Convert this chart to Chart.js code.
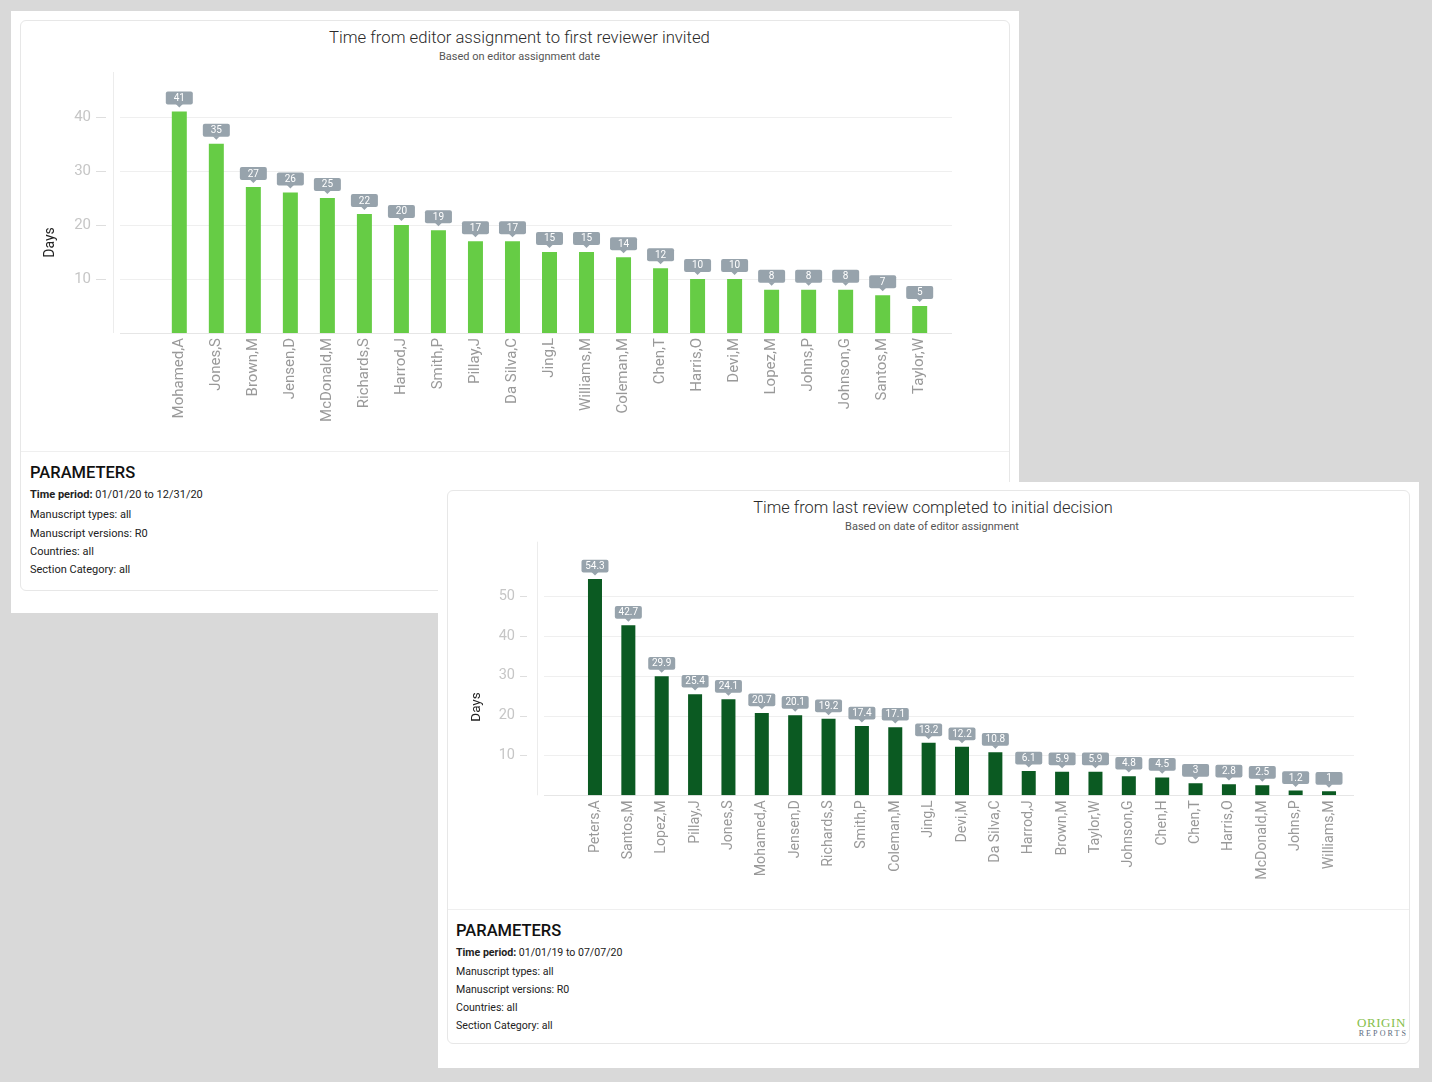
<!DOCTYPE html>
<html>
<head>
<meta charset="utf-8">
<script src="https://cdn.jsdelivr.net/npm/chart.js@4.4.0/dist/chart.umd.min.js"></script>
<style>
  html, body { margin: 0; padding: 0; }
  body { width: 1432px; height: 1082px; background: #d9d9d9; position: relative; overflow: hidden; font-family: Roboto, "Noto Sans", sans-serif; }
  .abs { position: absolute; }
  .panel { position: absolute; background: #fff; }
  .card { position: absolute; border: 1px solid #e7e7e7; border-radius: 6px; box-sizing: border-box; background: #fff; }
  .sep { position: absolute; height: 1px; background: #efefef; }
  .title { position: absolute; text-align: center; font-weight: 300; color: #2a2a2a; white-space: nowrap; line-height: 20px; }
  .sub { position: absolute; text-align: center; color: #555; white-space: nowrap; line-height: 14px; }
  .ph { position: absolute; font-weight: 500; color: #111; line-height: 20px; white-space: nowrap; }
  .pl { position: absolute; color: #222; line-height: 14px; white-space: nowrap; }
  .pl b { font-weight: 700; }
  canvas { position: absolute; }
</style>
</head>
<body>

<!-- top report -->
<div class="panel" style="left:11px;top:11px;width:1008px;height:602px;"></div>
<div class="card" style="left:20px;top:20px;width:990px;height:571px;"></div>
<div class="sep" style="left:21px;top:451px;width:988px;"></div>
<div class="title" style="left:20px;top:28px;width:999px;font-size:16.7px;">Time from editor assignment to first reviewer invited</div>
<div class="sub" style="left:20px;top:50px;width:999px;font-size:11px;">Based on editor assignment date</div>
<canvas id="chartA" width="990" height="430" style="left:20px;top:20px;"></canvas>
<div class="ph" style="left:30px;top:463px;font-size:16.5px;">PARAMETERS</div>
<div class="pl" style="left:30px;top:488px;font-size:11px;"><b>Time period:</b> 01/01/20 to 12/31/20</div>
<div class="pl" style="left:30px;top:508px;font-size:11px;">Manuscript types: all</div>
<div class="pl" style="left:30px;top:527px;font-size:11px;">Manuscript versions: R0</div>
<div class="pl" style="left:30px;top:545px;font-size:11px;">Countries: all</div>
<div class="pl" style="left:30px;top:563px;font-size:11px;">Section Category: all</div>

<!-- bottom report -->
<div class="panel" style="left:438px;top:482px;width:981px;height:586px;"></div>
<div class="card" style="left:447px;top:490px;width:963px;height:554px;"></div>
<div class="sep" style="left:448px;top:909px;width:961px;"></div>
<div class="title" style="left:447px;top:498px;width:972px;font-size:16.4px;">Time from last review completed to initial decision</div>
<div class="sub" style="left:447px;top:520px;width:970px;font-size:11px;">Based on date of editor assignment</div>
<canvas id="chartB" width="963" height="418" style="left:447px;top:490px;"></canvas>
<div class="ph" style="left:456px;top:921px;font-size:16.5px;">PARAMETERS</div>
<div class="pl" style="left:456px;top:946px;font-size:10.6px;"><b>Time period:</b> 01/01/19 to 07/07/20</div>
<div class="pl" style="left:456px;top:965px;font-size:10.6px;">Manuscript types: all</div>
<div class="pl" style="left:456px;top:983px;font-size:10.6px;">Manuscript versions: R0</div>
<div class="pl" style="left:456px;top:1001px;font-size:10.6px;">Countries: all</div>
<div class="pl" style="left:456px;top:1019px;font-size:10.6px;">Section Category: all</div>
<div class="abs" style="left:1330px;top:1015px;width:76px;text-align:right;font-family:'Liberation Serif','DejaVu Serif',serif;font-size:13px;line-height:16px;color:#86c04a;letter-spacing:0.6px;">ORIGIN</div>
<div class="abs" style="left:1330px;top:1029px;width:78px;text-align:right;font-family:'Liberation Serif','DejaVu Serif',serif;font-size:8px;line-height:10px;color:#5b6b7c;letter-spacing:2.1px;">REPORTS</div>

<script>
// ---------- data ----------
const editorsA = ['Mohamed,A','Jones,S','Brown,M','Jensen,D','McDonald,M','Richards,S','Harrod,J','Smith,P','Pillay,J','Da Silva,C','Jing,L','Williams,M','Coleman,M','Chen,T','Harris,O','Devi,M','Lopez,M','Johns,P','Johnson,G','Santos,M','Taylor,W'];
const daysA = [41,35,27,26,25,22,20,19,17,17,15,15,14,12,10,10,8,8,8,7,5];
const yTicksA = [10,20,30,40];

const editorsB = ['Peters,A','Santos,M','Lopez,M','Pillay,J','Jones,S','Mohamed,A','Jensen,D','Richards,S','Smith,P','Coleman,M','Jing,L','Devi,M','Da Silva,C','Harrod,J','Brown,M','Taylor,W','Johnson,G','Chen,H','Chen,T','Harris,O','McDonald,M','Johns,P','Williams,M'];
const daysB = [54.3,42.7,29.9,25.4,24.1,20.7,20.1,19.2,17.4,17.1,13.2,12.2,10.8,6.1,5.9,5.9,4.8,4.5,3,2.8,2.5,1.2,1];
const yTicksB = [10,20,30,40,50];

const axisTitle = 'Days';

// ---------- drawing helpers ----------
function decorPlugin(st) {
  return {
    id: 'decor_' + st.key,
    beforeDatasetsDraw(chart) {
      const ctx = chart.ctx, ca = chart.chartArea, y = chart.scales.y;
      ctx.save();
      ctx.lineWidth = 1;
      y.ticks.forEach(t => {
        const py = Math.round(y.getPixelForValue(t.value)) + 0.5;
        ctx.strokeStyle = t.value === 0 ? '#e6e6e6' : '#efefef';
        ctx.beginPath();
        ctx.moveTo(ca.left - st.gridL, py);
        ctx.lineTo(ca.right + st.gridR, py);
        ctx.stroke();
        if (t.value !== 0) {
          ctx.strokeStyle = '#dedede';
          ctx.beginPath();
          ctx.moveTo(ca.left - st.tickFrom, py);
          ctx.lineTo(ca.left - st.tickTo, py);
          ctx.stroke();
        }
      });
      const ax = Math.round(ca.left - st.axis) + 0.5;
      ctx.strokeStyle = '#ececec';
      ctx.beginPath();
      ctx.moveTo(ax, ca.top);
      ctx.lineTo(ax, ca.bottom);
      ctx.stroke();
      ctx.translate(st.titleX, (ca.top + ca.bottom) / 2 + st.titleDy);
      ctx.rotate(-Math.PI / 2);
      ctx.fillStyle = '#222';
      ctx.font = st.titleFont + 'px Roboto';
      ctx.textAlign = 'center';
      ctx.textBaseline = 'middle';
      ctx.fillText(axisTitle, 0, 0);
      ctx.restore();
    },
    afterDatasetsDraw(chart) {
      const ctx = chart.ctx;
      const meta = chart.getDatasetMeta(0);
      const vals = chart.data.datasets[0].data;
      ctx.save();
      meta.data.forEach((el, i) => {
        const x = el.x, top = el.y;
        const w = st.boxW, h = st.boxH;
        const bBottom = top - st.gap;
        const bTop = bBottom - h;
        ctx.fillStyle = '#97a3ac';
        ctx.beginPath();
        ctx.roundRect(x - w / 2, bTop, w, h, 2);
        ctx.fill();
        ctx.beginPath();
        ctx.moveTo(x - 3.5, bBottom - 0.5);
        ctx.lineTo(x + 3.5, bBottom - 0.5);
        ctx.lineTo(x, bBottom + 3);
        ctx.closePath();
        ctx.fill();
        ctx.fillStyle = '#ffffff';
        ctx.font = st.valFont + 'px Roboto';
        ctx.textAlign = 'center';
        ctx.textBaseline = 'middle';
        ctx.fillText(String(vals[i]), x, bTop + h / 2 + 0.5);
      });
      ctx.restore();
    }
  };
}

function makeChart(id, labels, values, ticksArr, cfg) {
  const st = cfg.style;
  return new Chart(document.getElementById(id), {
    type: 'bar',
    data: {
      labels: labels,
      datasets: [{
        data: values,
        backgroundColor: cfg.color,
        borderWidth: 0,
        barPercentage: cfg.barPct,
        categoryPercentage: 1
      }]
    },
    options: {
      responsive: false,
      devicePixelRatio: 1,
      animation: false,
      events: [],
      layout: { padding: { left: 0, top: cfg.padTop, right: cfg.padRight, bottom: 0 } },
      plugins: { legend: { display: false }, tooltip: { enabled: false }, title: { display: false } },
      scales: {
        x: {
          grid: { display: false, drawTicks: false },
          border: { display: false },
          ticks: {
            autoSkip: false, minRotation: 90, maxRotation: 90, padding: 5,
            color: '#999', font: { family: 'Roboto', size: cfg.xFont }
          },
          afterFit: s => { s.height = cfg.xHeight; }
        },
        y: {
          min: 0, max: cfg.yMax,
          grid: { display: false, drawTicks: false },
          border: { display: false },
          ticks: {
            padding: cfg.yPad, color: '#c6c6c6',
            font: { family: 'Roboto', size: cfg.yFont },
            callback: v => (v === 0 ? '' : String(v))
          },
          afterBuildTicks: s => { s.ticks = [0, ...ticksArr].map(v => ({ value: v })); },
          afterFit: s => { s.width = cfg.yWidth; s.paddingTop = 0; s.paddingBottom = 0; }
        }
      }
    },
    plugins: [decorPlugin(st)]
  });
}

makeChart('chartA', editorsA, daysA, yTicksA, {
  color: '#66cc45', barPct: 0.405,
  padTop: 52, padRight: 71.8, xHeight: 117, yWidth: 140.8, yPad: 69.8, yMax: 48.3,
  xFont: 15, yFont: 15,
  style: { key: 'A', gridL: 40.8, gridR: 13.8, axis: 47.8, tickFrom: 64.8, tickTo: 54.8,
           titleX: 30.5, titleDy: 40, titleFont: 14, boxW: 27, boxH: 13, gap: 7, valFont: 10 }
});

makeChart('chartB', editorsB, daysB, yTicksB, {
  color: '#0b5a22', barPct: 0.42,
  padTop: 51.7, padRight: 64.3, xHeight: 112.7, yWidth: 131.3, yPad: 63.3, yMax: 63.7,
  xFont: 14.2, yFont: 14.5,
  style: { key: 'B', gridL: 34.3, gridR: 8.3, axis: 41.3, tickFrom: 58.3, tickTo: 51.3,
           titleX: 30, titleDy: 38.5, titleFont: 13.5, boxW: 27, boxH: 12.7, gap: 6.6, valFont: 10 }
});
</script>
</body>
</html>
